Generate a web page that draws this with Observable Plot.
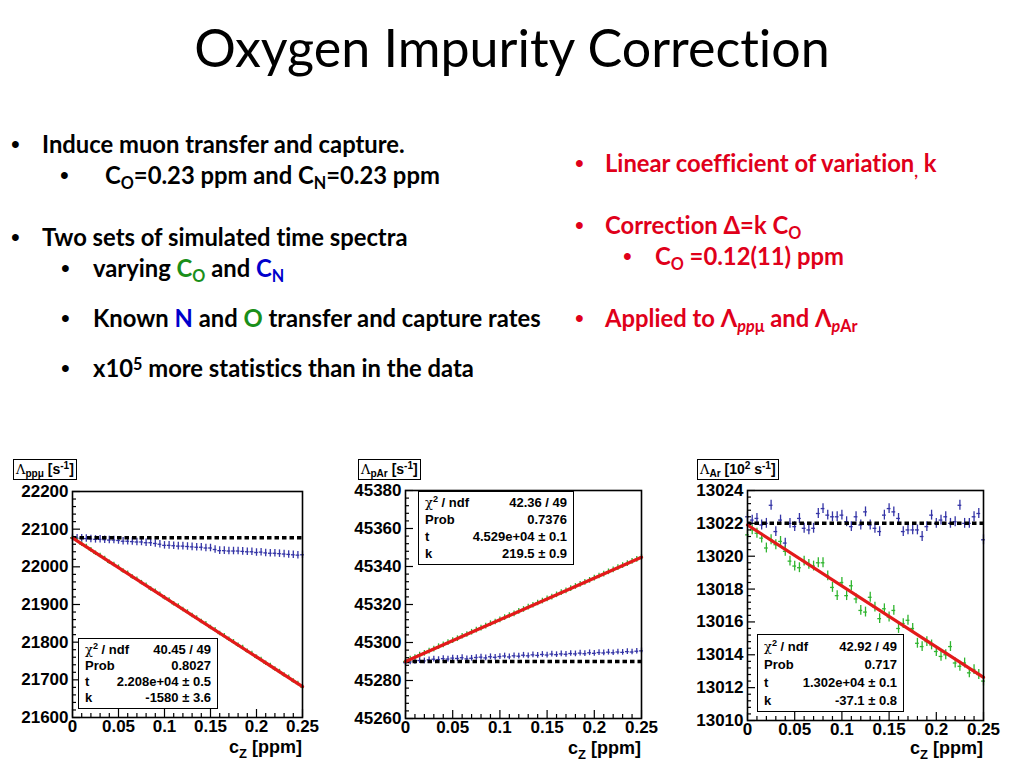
<!DOCTYPE html>
<html><head><meta charset="utf-8">
<script src="https://cdn.jsdelivr.net/npm/d3@7"></script>
<script src="https://cdn.jsdelivr.net/npm/@observablehq/plot@0.6"></script>
<style>
body{margin:0;background:#fff;}
#slide{position:relative;width:1024px;height:768px;overflow:hidden;font-family:Lato,"Open Sans",sans-serif;color:#000;font-variant-ligatures:none;}
.title{position:absolute;left:0;width:1024px;top:21px;text-align:center;font-size:52px;line-height:1;}
.t{position:absolute;font-weight:bold;font-size:23.8px;white-space:nowrap;line-height:26px;}
.dot{position:absolute;font-family:"Liberation Sans",Arial,sans-serif;font-size:25px;line-height:26px;}
.t sub{font-size:0.68em;vertical-align:-0.28em;line-height:0;}
.t sup{font-size:0.68em;vertical-align:0.45em;line-height:0;}
.red{color:#e0001a;}
.g{color:#1a8f1a;}
.bl{color:#0000cc;}
.panel{position:absolute;}
.ptitle{position:absolute;border:1px solid #000;background:#fff;font-family:"Liberation Sans",Arial,sans-serif;font-weight:bold;font-size:14px;line-height:19px;padding:0 2px;white-space:nowrap;}
.ptitle .lam{font-family:"DejaVu Serif",serif;font-weight:normal;font-size:13px;}
.ptitle sub{font-size:0.72em;vertical-align:-0.3em;line-height:0;}
.ptitle sup{font-size:0.72em;vertical-align:0.5em;line-height:0;}
.xlab{position:absolute;font-family:"Liberation Sans",Arial,sans-serif;font-weight:bold;font-size:18px;line-height:16px;white-space:nowrap;text-align:right;}
.xlab sub{font-size:0.72em;vertical-align:-0.35em;line-height:0;}
.stats{position:absolute;border:1.5px solid #000;background:#fff;font-family:"Liberation Sans",Arial,sans-serif;font-weight:bold;font-size:13px;box-sizing:border-box;padding:2px 6px;}
.stats .row{display:flex;justify-content:space-between;}
.stats sup{font-size:0.7em;vertical-align:0.5em;line-height:0;}
.stats .chi{font-family:"DejaVu Serif",serif;font-weight:normal;}
</style></head>
<body><div id="slide">
<div class="title">Oxygen Impurity Correction</div>

<div class="dot" style="left:11px;top:131px">•</div>
<div class="t" style="left:42px;top:131px">Induce muon transfer and capture.</div>
<div class="dot" style="left:60px;top:162px">•</div>
<div class="t" style="left:105px;top:162px">C<sub>O</sub>=0.23 ppm and C<sub>N</sub>=0.23 ppm</div>

<div class="dot" style="left:11px;top:224px">•</div>
<div class="t" style="left:42px;top:224px">Two sets of simulated time spectra</div>
<div class="dot" style="left:61px;top:255px">•</div>
<div class="t" style="left:93px;top:255px">varying <span class="g">C<sub>O</sub></span> and <span class="bl">C<sub>N</sub></span></div>
<div class="dot" style="left:61px;top:305px">•</div>
<div class="t" style="left:93px;top:305px">Known <span class="bl">N</span> and <span class="g">O</span> transfer and capture rates</div>
<div class="dot" style="left:61px;top:355px">•</div>
<div class="t" style="left:93px;top:355px">x10<sup>5</sup> more statistics than in the data</div>

<div class="dot red" style="left:575px;top:150px">•</div>
<div class="t red" style="left:605px;top:150px">Linear coefficient of variation<sub>,</sub> k</div>
<div class="dot red" style="left:575px;top:212px">•</div>
<div class="t red" style="left:605px;top:212px">Correction Δ=k C<sub>O</sub></div>
<div class="dot red" style="left:623px;top:243px">•</div>
<div class="t red" style="left:655px;top:243px">C<sub>O</sub> =0.12(11) ppm</div>
<div class="dot red" style="left:575px;top:305px">•</div>
<div class="t red" style="left:605px;top:305px">Applied to Λ<sub><i>pp</i>μ</sub> and Λ<sub><i>p</i>Ar</sub></div>
</div>
<script>
// ---- data ----
const cz = [0,0.005,0.01,0.015,0.02,0.025,0.03,0.035,0.04,0.045,0.05,0.055,0.06,0.065,0.07,0.075,0.08,0.085,0.09,0.095,0.1,0.105,0.11,0.115,0.12,0.125,0.13,0.135,0.14,0.145,0.15,0.155,0.16,0.165,0.17,0.175,0.18,0.185,0.19,0.195,0.2,0.205,0.21,0.215,0.22,0.225,0.23,0.235,0.24,0.245,0.25];

const ppmuO = [22077,22070,22060,22054,22045,22036,22030,22022,22012,22006,21999,21989,21983,21973,21967,21958,21951,21941,21935,21927,21918,21912,21902,21896,21887,21880,21871,21864,21855,21849,21839,21833,21823,21817,21808,21801,21792,21786,21776,21770,21760,21754,21744,21738,21729,21722,21713,21707,21697,21690,21681];
const ppmuN = [22077,22076,22076,22075,22074,22073,22073,22072,22071,22071,22070,22068,22068,22067,22066,22066,22064,22064,22062,22060,22057,22057,22056,22055,22055,22054,22053,22052,22052,22050,22050,22046,22043,22043,22042,22042,22042,22041,22040,22040,22038,22039,22037,22036,22036,22035,22034,22033,22032,22031,22032];

const pArO = [45290.0,45291.2,45292.1,45293.4,45294.3,45295.5,45296.5,45297.8,45298.7,45299.9,45301.0,45302.0,45303.3,45304.2,45305.4,45306.5,45307.6,45308.6,45309.9,45310.8,45311.9,45313.1,45314.2,45315.1,45316.4,45317.4,45318.6,45319.6,45320.8,45321.8,45323.0,45323.9,45325.1,45326.3,45327.2,45328.4,45329.5,45330.6,45331.6,45332.7,45333.9,45335.0,45336.0,45337.2,45338.2,45339.4,45340.5,45341.5,45342.7,45343.7,45344.9];
const pArN = [45289.4,45289.8,45290.1,45290.5,45290.3,45290.9,45291.2,45291.0,45291.5,45291.3,45291.8,45291.6,45292.0,45291.4,45291.7,45292.1,45292.3,45291.9,45292.5,45292.2,45292.6,45292.9,45292.4,45293.0,45292.8,45293.3,45293.0,45293.5,45293.2,45293.7,45293.4,45293.9,45293.6,45294.0,45293.8,45294.2,45294.0,45294.4,45294.1,45294.6,45294.3,45294.7,45294.5,45294.9,45294.6,45295.0,45294.8,45295.2,45295.0,45295.4,45295.6];

const ArO = [13021.3,13021.6,13021.4,13021.1,13020.5,13021.0,13020.7,13020.9,13020.3,13019.7,13019.4,13019.3,13019.7,13019.5,13019.4,13019.6,13019.6,13018.8,13018.1,13017.6,13018.4,13017.6,13018.2,13017.4,13016.7,13016.6,13017.5,13016.9,13016.2,13016.8,13016.3,13016.7,13015.6,13015.9,13016.1,13015.6,13014.7,13014.5,13014.8,13014.6,13014.2,13013.9,13014.0,13014.5,13013.5,13013.3,13013.5,13012.9,13013.1,13012.8,13012.4];
const ArN = [13022.4,13022.2,13022.3,13021.9,13022.0,13023.1,13021.5,13022.2,13020.8,13022.0,13021.8,13022.3,13021.7,13021.6,13021.7,13022.6,13022.9,13022.5,13022.4,13022.4,13022.5,13022.1,13021.8,13022.4,13021.9,13022.7,13021.9,13021.7,13021.5,13022.5,13022.9,13022.7,13022.3,13021.5,13021.6,13021.6,13021.6,13021.2,13021.8,13022.5,13022.0,13022.2,13022.4,13022.0,13022.1,13023.1,13022.0,13022.0,13022.4,13022.6,13021.0];

const errO = [6, 1.5, 0.3];
const errN = [10, 1.5, 0.3];
const fitT = [22077, 45290, 13021.9];
const fitK = [-1580, 219.5, -37.1];
const refLevel = [22077, 45290, 13022];
const yDomains = [[21600,22200],[45260,45380],[13010,13024]];
const yLabels = [[21600,21700,21800,21900,22000,22100,22200],[45260,45280,45300,45320,45340,45360,45380],[13010,13012,13014,13016,13018,13020,13022,13024]];
const yMinorStep = [20, 4, 0.4];
const xLabels = [0,0.05,0.1,0.15,0.2,0.25];
const xMinor = [0.01,0.02,0.03,0.04,0.06,0.07,0.08,0.09,0.11,0.12,0.13,0.14,0.16,0.17,0.18,0.19,0.21,0.22,0.23,0.24];
const panelTitles = ['<span class="lam">Λ</span><sub>ppμ</sub> [s<sup>-1</sup>]','<span class="lam">Λ</span><sub>pAr</sub> [s<sup>-1</sup>]','<span class="lam">Λ</span><sub>Ar</sub> [10<sup>2</sup> s<sup>-1</sup>]'];
const statChi = ["40.45 / 49","42.36 / 49","42.92 / 49"];
const statProb = ["0.8027","0.7376","0.717"];
const statT = ["2.208e+04 ± 0.5","4.529e+04 ± 0.1","1.302e+04 ± 0.1"];
const statK = ["-1580 ± 3.6","219.5 ± 0.9","-37.1 ± 0.8"];

// ---- layout (pixels) ----
const layout = [
  {fl:72, ft:491, fw:230, fh:226, title:[13,459], stats:[78,638,140,71], xl:[302,739]},
  {fl:405, ft:490, fw:236, fh:228, title:[358,459], stats:[418,491,156,74], xl:[641,740]},
  {fl:747, ft:490, fw:236, fh:230, title:[697,459], stats:[757,634,147,78], xl:[983,740]}
];
const oSeries = [ppmuO, pArO, ArO];
const nSeries = [ppmuN, pArN, ArN];
const green = "#2fb52f", blue = "#3434a6", red = "#e31a1a";

const slide = document.getElementById("slide");
const mL = 70, mR = 30, mT = 4, mB = 22;

layout.forEach((L, p) => {
  const O = cz.map((x, i) => ({x, y: oSeries[p][i]}));
  const N = cz.map((x, i) => ({x, y: nSeries[p][i]}));
  const fit = [0, 0.25].map(x => ({x, y: fitT[p] + fitK[p] * x}));
  const [y0, y1] = yDomains[p];
  const minor = d3.range(Math.round((y1 - y0) / yMinorStep[p]) + 1).map(j => y0 + j * yMinorStep[p]).filter(v => !yLabels[p].some(l => Math.abs(l - v) < 1e-6));
  const eo = errO[p], en = errN[p], hx = 0.002;
  const chart = Plot.plot({
    width: L.fw + mL + mR,
    height: L.fh + mT + mB,
    marginLeft: mL, marginRight: mR, marginTop: mT, marginBottom: mB,
    style: {fontFamily: "Liberation Sans, Arial, sans-serif", fontWeight: "bold", fontSize: "17px", background: "transparent", overflow: "visible"},
    x: {domain: [0, 0.25], ticks: xLabels, tickSize: 0, tickPadding: 2, tickFormat: d => String(d), label: null},
    y: {domain: yDomains[p], ticks: yLabels[p], tickSize: 0, tickPadding: 4, tickFormat: d => String(d), label: null},
    marks: [
      Plot.ruleX(N, {x: "x", y1: d => d.y - en, y2: d => d.y + en, stroke: blue, strokeWidth: 1.3}),
      Plot.ruleY(N, {y: "y", x1: d => d.x - hx, x2: d => d.x + hx, stroke: blue, strokeWidth: 1.3}),
      Plot.ruleX(O, {x: "x", y1: d => d.y - eo, y2: d => d.y + eo, stroke: green, strokeWidth: 1.3}),
      Plot.ruleY(O, {y: "y", x1: d => d.x - hx, x2: d => d.x + hx, stroke: green, strokeWidth: 1.3}),
      Plot.ruleY([refLevel[p]], {stroke: "#000", strokeWidth: 3.5, strokeDasharray: "4.5,3"}),
      Plot.line(fit, {x: "x", y: "y", stroke: red, strokeWidth: 3.2}),
      Plot.tickY(yLabels[p], {y: d => d, insetRight: L.fw - 8, stroke: "#000", strokeWidth: 1.2}),
      Plot.tickY(minor, {y: d => d, insetRight: L.fw - 4, stroke: "#000", strokeWidth: 1.2}),
      Plot.tickX(xLabels, {x: d => d, insetTop: L.fh - 8, stroke: "#000", strokeWidth: 1.2}),
      Plot.tickX(xMinor, {x: d => d, insetTop: L.fh - 4, stroke: "#000", strokeWidth: 1.2}),
      Plot.frame({stroke: "#000", strokeWidth: 1.6})
    ]
  });
  const wrap = document.createElement("div");
  wrap.className = "panel";
  wrap.style.left = (L.fl - mL) + "px";
  wrap.style.top = (L.ft - mT) + "px";
  wrap.appendChild(chart);
  slide.appendChild(wrap);

  const t = document.createElement("div");
  t.className = "ptitle";
  t.style.left = L.title[0] + "px"; t.style.top = L.title[1] + "px";
  t.innerHTML = panelTitles[p];
  slide.appendChild(t);

  const xl = document.createElement("div");
  xl.className = "xlab";
  xl.style.right = (1024 - L.xl[0]) + "px"; xl.style.top = L.xl[1] + "px";
  xl.innerHTML = "c<sub>Z</sub> [ppm]";
  slide.appendChild(xl);

  const s = document.createElement("div");
  s.className = "stats";
  const [sx, sy, sw, sh] = L.stats;
  s.style.left = sx + "px"; s.style.top = sy + "px"; s.style.width = sw + "px"; s.style.height = sh + "px";
  s.style.display = "flex"; s.style.flexDirection = "column"; s.style.justifyContent = "space-around";
  s.innerHTML =
    `<div class="row"><span><span class="chi">χ</span><sup>2</sup> / ndf</span><span>${statChi[p]}</span></div>` +
    `<div class="row"><span>Prob</span><span>${statProb[p]}</span></div>` +
    `<div class="row"><span>t</span><span>${statT[p]}</span></div>` +
    `<div class="row"><span>k</span><span>${statK[p]}</span></div>`;
  slide.appendChild(s);
});
</script>
</body></html>
